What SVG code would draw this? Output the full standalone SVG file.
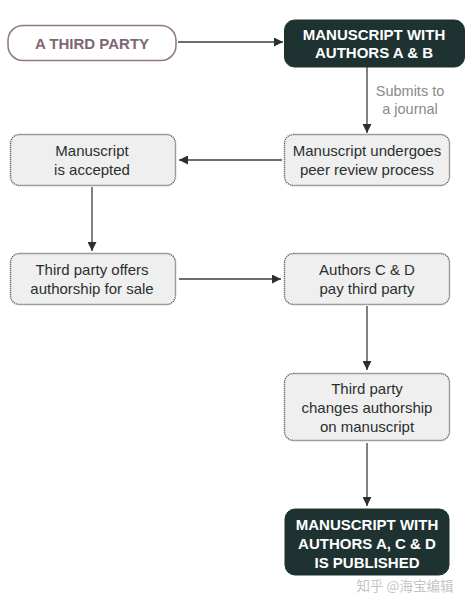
<svg xmlns="http://www.w3.org/2000/svg" width="469" height="606" viewBox="0 0 469 606">
<style>
.lt{fill:#efefef;stroke:#444;stroke-width:1.4;stroke-dasharray:1 1}
.dk{fill:#1e3232;stroke:#1e3232}
.t{font-family:"Liberation Sans",Arial,sans-serif;font-size:15px;fill:#2a3030;text-anchor:middle}
.w{font-family:"Liberation Sans",Arial,sans-serif;font-size:15px;font-weight:bold;fill:#fff;text-anchor:middle}
.c{stroke:#3a3f3f;stroke-width:1.3;fill:none;marker-end:url(#a)}
</style>
<defs>
<marker id="a" viewBox="0 0 10 10" refX="10" refY="5" markerWidth="9" markerHeight="9" markerUnits="userSpaceOnUse" orient="auto">
<path d="M0,0L10,5L0,10z" fill="#2a3030"/>
</marker>
</defs>
<rect width="469" height="606" fill="#fff"/>
<g id="connectors">
<path class="c" d="M178,42H283"/>
<path class="c" d="M367,67V133"/>
<path class="c" d="M282,160H179"/>
<path class="c" d="M92,187V251"/>
<path class="c" d="M179,279H281"/>
<path class="c" d="M367,306V370"/>
<path class="c" d="M367,443V506"/>
<text x="410" y="96" font-family="Liberation Sans,Arial,sans-serif" font-size="14.5" fill="#8a8a8a" text-anchor="middle">Submits to</text>
<text x="410" y="114" font-family="Liberation Sans,Arial,sans-serif" font-size="14.5" fill="#8a8a8a" text-anchor="middle">a journal</text>
</g>
<g id="third">
<rect x="8" y="25.5" width="168" height="35" rx="15" fill="#fff" stroke="#8e7686" stroke-width="1.5"/>
<text x="92" y="48.5" font-family="Liberation Sans,Arial,sans-serif" font-size="15" font-weight="bold" fill="#7e6674" text-anchor="middle">A THIRD PARTY</text>
</g>
<g id="msAB">
<rect class="dk" x="284.5" y="20" width="180" height="47" rx="10"/>
<text class="w" x="374" y="39.5">MANUSCRIPT WITH</text>
<text class="w" x="374" y="58">AUTHORS A &amp; B</text>
</g>
<g id="peer">
<rect class="lt" x="284.5" y="134.5" width="165" height="51" rx="9"/>
<text class="t" x="367" y="155.5">Manuscript undergoes</text>
<text class="t" x="367" y="174.5">peer review process</text>
</g>
<g id="accepted">
<rect class="lt" x="10.5" y="134.5" width="165" height="51" rx="9"/>
<text class="t" x="92" y="155.5">Manuscript</text>
<text class="t" x="92" y="174.5">is accepted</text>
</g>
<g id="offers">
<rect class="lt" x="10.5" y="253.5" width="165" height="51" rx="9"/>
<text class="t" x="92" y="274.5">Third party offers</text>
<text class="t" x="92" y="293.5">authorship for sale</text>
</g>
<g id="pay">
<rect class="lt" x="284.5" y="253.5" width="165" height="51" rx="9"/>
<text class="t" x="367" y="274.5">Authors C &amp; D</text>
<text class="t" x="367" y="293.5">pay third party</text>
</g>
<g id="changes">
<rect class="lt" x="284.5" y="373.5" width="165" height="67" rx="9"/>
<text class="t" x="367" y="393.5">Third party</text>
<text class="t" x="367" y="412.5">changes authorship</text>
<text class="t" x="367" y="431.5">on manuscript</text>
</g>
<g id="published">
<rect class="dk" x="285" y="509" width="164" height="66" rx="10"/>
<text class="w" x="367" y="529.5">MANUSCRIPT WITH</text>
<text class="w" x="367" y="548.5">AUTHORS A, C &amp; D</text>
<text class="w" x="367" y="567.5">IS PUBLISHED</text>
</g>
<text x="405" y="591" font-family="Noto Sans CJK SC,sans-serif" font-size="13.5" fill="#c4c4c4" text-anchor="middle">知乎 @海宝编辑</text>
</svg>
